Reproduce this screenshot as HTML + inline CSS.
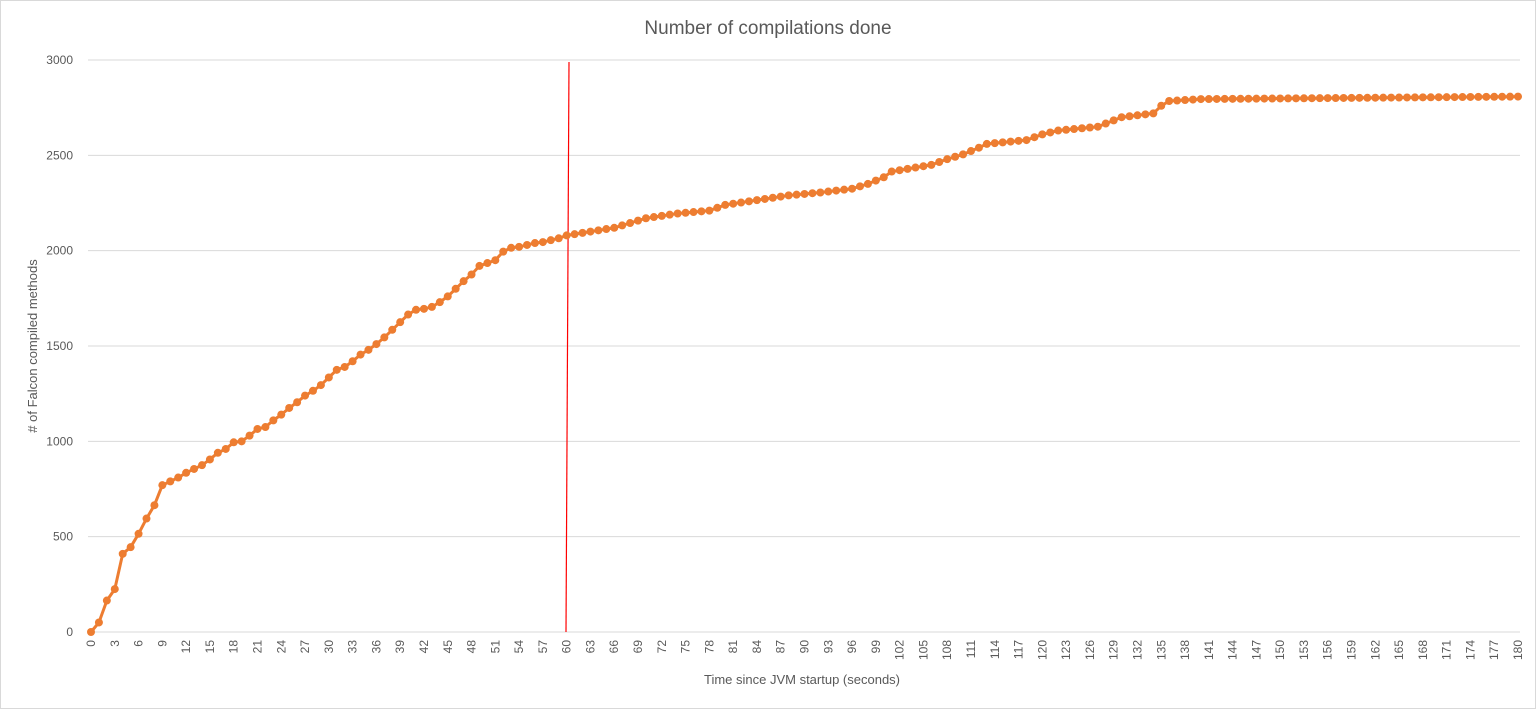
<!DOCTYPE html>
<html><head><meta charset="utf-8">
<style>
html,body{margin:0;padding:0;background:#fff;}
svg{display:block;font-family:"Liberation Sans",sans-serif;}
</style></head>
<body>
<svg id="c" width="1536" height="709" viewBox="0 0 1536 709" xmlns="http://www.w3.org/2000/svg">
<rect x="0.5" y="0.5" width="1535" height="708" fill="#fff" stroke="#d9d9d9"/>
<text x="768" y="34" text-anchor="middle" font-size="19" fill="#595959">Number of compilations done</text>
<g id="grid"></g>
<g id="xt"></g>
<line x1="569" y1="62" x2="566" y2="632" stroke="#ff0000" stroke-width="1.2"/>
<g id="series"></g>
<text transform="translate(37,346) rotate(-90)" text-anchor="middle" font-size="13" fill="#595959"># of Falcon compiled methods</text>
<text x="802" y="684" text-anchor="middle" font-size="13" fill="#595959">Time since JVM startup (seconds)</text>
</svg>
<script>
var NS="http://www.w3.org/2000/svg";
function el(t,a,p,txt){var e=document.createElementNS(NS,t);for(var k in a)e.setAttribute(k,a[k]);if(txt!=null)e.textContent=txt;document.getElementById(p).appendChild(e);return e;}
var x0=91,x1=1518,y0=632,y3=60;
function X(s){return x0+(x1-x0)*s/180;}
function Y(v){return y0-(y0-y3)*v/3000;}
for(var v=0;v<=3000;v+=500){
  el("line",{x1:x0-3,x2:1520,y1:Y(v),y2:Y(v),stroke:"#d9d9d9","stroke-width":1},"grid");
  el("text",{x:73,y:Y(v)+4,"text-anchor":"end","font-size":12,fill:"#595959"},"grid",v);
}
for(var s=0;s<=180;s+=3){
  var e=el("text",{"text-anchor":"end","font-size":12,fill:"#595959",transform:"translate("+(X(s)+4)+",640) rotate(-90)"},"xt",s);
}
var first=[0,50,165,225,410,445,515,595,665,770,790,810,835,855,875,905,940,960,995,1000,1030,1065,1075,1110,1140,1175,1205,1240,1265,1295,1335,1375,1390,1420,1455,1480,1510,1545,1585,1625,1665,1690,1695,1705,1730,1760,1800,1840,1875,1920,1935,1950,1995,2015,2020,2030,2040,2045,2055,2065,2080];
var anch=[[60,2080],[66,2120],[70,2170],[74,2195],[78,2210],[80,2240],[84,2265],[88,2290],[92,2305],[96,2325],[98,2350],[100,2385],[101,2415],[106,2450],[108,2480],[110,2505],[112,2540],[113,2560],[118,2580],[120,2610],[122,2630],[127,2650],[130,2700],[134,2720],[135,2760],[136,2785],[140,2795],[180,2808]];
var data=first.slice();
for(var s=61;s<=180;s++){
  for(var i=0;i<anch.length-1;i++){
    if(s>=anch[i][0]&&s<=anch[i+1][0]){
      var t=(s-anch[i][0])/(anch[i+1][0]-anch[i][0]);
      data.push(anch[i][1]+t*(anch[i+1][1]-anch[i][1]));break;
    }
  }
}
var pts=data.map(function(v,i){return X(i).toFixed(1)+","+Y(v).toFixed(1);}).join(" ");
el("polyline",{points:pts,fill:"none",stroke:"#ed7d31","stroke-width":3,"stroke-linejoin":"round"},"series");
data.forEach(function(v,i){el("circle",{cx:X(i),cy:Y(v),r:4,fill:"#ed7d31"},"series");});
</script>
</body></html>
